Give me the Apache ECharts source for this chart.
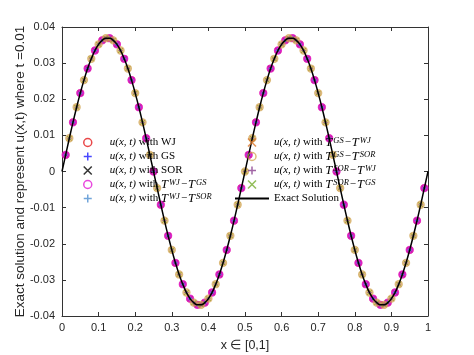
<!DOCTYPE html>
<html>
<head>
<meta charset="utf-8">
<script src="https://cdn.jsdelivr.net/npm/echarts@6/dist/echarts.min.js"></script>
<style>
  html, body { margin: 0; padding: 0; background: #fff; }
  #chart { width: 474px; height: 355px; }
</style>
</head>
<body>
<div id="chart"></div>
<script>
// grid points x in [0,1] and the solution at t = 0.01
const xGrid = [
  0, 0.01, 0.02, 0.03, 0.04, 0.05, 0.06, 0.07, 0.08, 0.09,
  0.1, 0.11, 0.12, 0.13, 0.14, 0.15, 0.16, 0.17, 0.18, 0.19,
  0.2, 0.21, 0.22, 0.23, 0.24, 0.25, 0.26, 0.27, 0.28, 0.29,
  0.3, 0.31, 0.32, 0.33, 0.34, 0.35, 0.36, 0.37, 0.38, 0.39,
  0.4, 0.41, 0.42, 0.43, 0.44, 0.45, 0.46, 0.47, 0.48, 0.49,
  0.5, 0.51, 0.52, 0.53, 0.54, 0.55, 0.56, 0.57, 0.58, 0.59,
  0.6, 0.61, 0.62, 0.63, 0.64, 0.65, 0.66, 0.67, 0.68, 0.69,
  0.7, 0.71, 0.72, 0.73, 0.74, 0.75, 0.76, 0.77, 0.78, 0.79,
  0.8, 0.81, 0.82, 0.83, 0.84, 0.85, 0.86, 0.87, 0.88, 0.89,
  0.9, 0.91, 0.92, 0.93, 0.94, 0.95, 0.96, 0.97, 0.98, 0.99, 1
];
const uExact = [
  0, 0.0046, 0.0092, 0.0136, 0.0178, 0.0217, 0.0253, 0.0285, 0.0312, 0.0335,
  0.0352, 0.0363, 0.0369, 0.0369, 0.0363, 0.0352, 0.0335, 0.0312, 0.0285, 0.0253,
  0.0217, 0.0178, 0.0136, 0.0092, 0.0046, 0, -0.0046, -0.0092, -0.0136, -0.0178,
  -0.0217, -0.0253, -0.0285, -0.0312, -0.0335, -0.0352, -0.0363, -0.0369, -0.0369, -0.0363,
  -0.0352, -0.0335, -0.0312, -0.0285, -0.0253, -0.0217, -0.0178, -0.0136, -0.0092, -0.0046,
  0, 0.0046, 0.0092, 0.0136, 0.0178, 0.0217, 0.0253, 0.0285, 0.0312, 0.0335,
  0.0352, 0.0363, 0.0369, 0.0369, 0.0363, 0.0352, 0.0335, 0.0312, 0.0285, 0.0253,
  0.0217, 0.0178, 0.0136, 0.0092, 0.0046, 0, -0.0046, -0.0092, -0.0136, -0.0178,
  -0.0217, -0.0253, -0.0285, -0.0312, -0.0335, -0.0352, -0.0363, -0.0369, -0.0369, -0.0363,
  -0.0352, -0.0335, -0.0312, -0.0285, -0.0253, -0.0217, -0.0178, -0.0136, -0.0092, -0.0046, 0
];

const allPts = xGrid.map((x, i) => [x, uExact[i]]);
// markers sit on the interior points, alternating between the two groups
const oddPts = allPts.filter((p, i) => i % 2 === 1);
const evenPts = allPts.filter((p, i) => i % 2 === 0 && i > 0 && i < 100);

const plusPath = 'path://M0,5L10,5M5,0L5,10';
const crossPath = 'path://M0,0L10,10M10,0L0,10';

const names = ['WJ', 'GS', 'SOR', 'WJ-GS', 'WJ-SOR', 'GS-WJ', 'GS-SOR', 'SOR-WJ', 'SOR-GS', 'Exact'];
const labels = {
  'WJ': '{i|u(x, t)} {r|with WJ}',
  'GS': '{i|u(x, t)} {r|with GS}',
  'SOR': '{i|u(x, t)} {r|with SOR}',
  'WJ-GS': '{i|u(x, t)} {r|with} {t|T}{s|WJ}{m|−}{t|T}{s|GS}',
  'WJ-SOR': '{i|u(x, t)} {r|with} {t|T}{s|WJ}{m|−}{t|T}{s|SOR}',
  'GS-WJ': '{i|u(x, t)} {r|with} {t|T}{s|GS}{m|−}{t|T}{s|WJ}',
  'GS-SOR': '{i|u(x, t)} {r|with} {t|T}{s|GS}{m|−}{t|T}{s|SOR}',
  'SOR-WJ': '{i|u(x, t)} {r|with} {t|T}{s|SOR}{m|−}{t|T}{s|WJ}',
  'SOR-GS': '{i|u(x, t)} {r|with} {t|T}{s|SOR}{m|−}{t|T}{s|GS}',
  'Exact': '{r|Exact Solution}'
};

function markers(name, pts, symbol, color, size, width) {
  return {
    name: name,
    type: 'scatter',
    data: pts,
    symbol: symbol,
    symbolSize: size,
    itemStyle: { color: 'transparent', borderColor: color, borderWidth: width },
    silent: true,
  };
}

const legendBase = {
  orient: 'vertical',
  padding: 0,
  itemWidth: 34,
  itemHeight: 8,
  itemGap: 1,
  selectedMode: false,
  itemStyle: { borderWidth: 1.5 },
  formatter: (name) => labels[name],
  textStyle: {
    fontFamily: 'Liberation Serif',
    fontSize: 11,
    color: '#000',
    lineHeight: 13,
    rich: {
      i: { fontFamily: 'Liberation Serif', fontStyle: 'italic', fontSize: 11, color: '#000' },
      r: { fontFamily: 'Liberation Serif', fontSize: 11, color: '#000' },
      t: { fontFamily: 'Liberation Serif', fontStyle: 'italic', fontSize: 12.5, color: '#000', padding: [0, 1, 0, 0] },
      m: { fontFamily: 'Liberation Serif', fontSize: 11, color: '#000', padding: [0, 1, 0, 1] },
      s: { fontFamily: 'Liberation Serif', fontStyle: 'italic', fontSize: 8.5, color: '#000', verticalAlign: 'top', lineHeight: 9 },
    },
  },
};

const axisColor = '#333';
const tickFont = { fontFamily: 'Liberation Sans', fontSize: 11, color: '#262626' };

const option = {
  backgroundColor: '#fff',
  animation: false,
  grid: { left: 62, right: 46, top: 27, bottom: 39, outerBoundsMode: 'none', containLabel: false },
  legend: [
    Object.assign({}, legendBase, { data: names.slice(0, 5), left: 83, top: 136 }),
    Object.assign({}, legendBase, {
      data: names.slice(5, 9).concat([{ name: 'Exact', itemStyle: { opacity: 0 } }]),
      left: 234, top: 136,
    }),
  ],
  xAxis: [
    {
      type: 'value', min: 0, max: 1, interval: 0.1,
      name: 'x ∈ [0,1]', nameLocation: 'middle', nameGap: 23, nameMoveOverlap: false,
      nameTextStyle: { fontFamily: 'Liberation Sans', fontSize: 12.5, color: '#262626' },
      axisLine: { onZero: false, lineStyle: { color: axisColor } },
      axisTick: { inside: true, length: 4, lineStyle: { color: axisColor } },
      axisLabel: Object.assign({ margin: 6 }, tickFont),
      splitLine: { show: false },
    },
    {
      type: 'value', min: 0, max: 1, interval: 0.1, position: 'top',
      axisLine: { onZero: false, lineStyle: { color: axisColor } },
      axisTick: { inside: true, length: 4, lineStyle: { color: axisColor } },
      axisLabel: { show: false },
      splitLine: { show: false },
    },
  ],
  yAxis: [
    {
      type: 'value', min: -0.04, max: 0.04, interval: 0.01,
      name: 'Exact solution and represent u(x,t) where t =0.01',
      nameLocation: 'middle', nameGap: 35, nameMoveOverlap: false,
      nameTextStyle: { fontFamily: 'Liberation Sans', fontSize: 13.5, color: '#262626' },
      axisLine: { show: true, onZero: false, lineStyle: { color: axisColor } },
      axisTick: { show: true, inside: true, length: 4, lineStyle: { color: axisColor } },
      axisLabel: Object.assign({ margin: 7 }, tickFont),
      splitLine: { show: false },
    },
    {
      type: 'value', min: -0.04, max: 0.04, interval: 0.01, position: 'right',
      axisLine: { show: true, onZero: false, lineStyle: { color: axisColor } },
      axisTick: { show: true, inside: true, length: 4, lineStyle: { color: axisColor } },
      axisLabel: { show: false },
      splitLine: { show: false },
    },
  ],
  series: [
    markers('WJ', oddPts, 'circle', '#e41a1c', 6, 1.5),
    markers('GS', oddPts, plusPath, '#1a1aff', 6, 1.2),
    markers('SOR', oddPts, crossPath, '#000', 5, 1.2),
    markers('WJ-GS', oddPts, 'circle', '#e31ad6', 5.5, 2.8),
    markers('WJ-SOR', oddPts, plusPath, '#4d8fd1', 4, 1),
    markers('GS-WJ', evenPts, crossPath, '#d9772a', 5, 1),
    markers('GS-SOR', evenPts, 'circle', 'rgba(206,160,72,0.9)', 5.5, 2.8),
    markers('SOR-WJ', evenPts, plusPath, '#8a3f8e', 4, 1),
    markers('SOR-GS', evenPts, crossPath, '#77ac30', 4, 1),
    {
      name: 'Exact',
      type: 'line',
      data: allPts,
      symbol: 'none',
      smooth: true,
      itemStyle: { color: '#000', opacity: 0 },
      lineStyle: { color: '#000', width: 1.5 },
      silent: true,
    },
  ],
};

const chart = echarts.init(document.getElementById('chart'));
chart.setOption(option);
</script>
</body>
</html>
